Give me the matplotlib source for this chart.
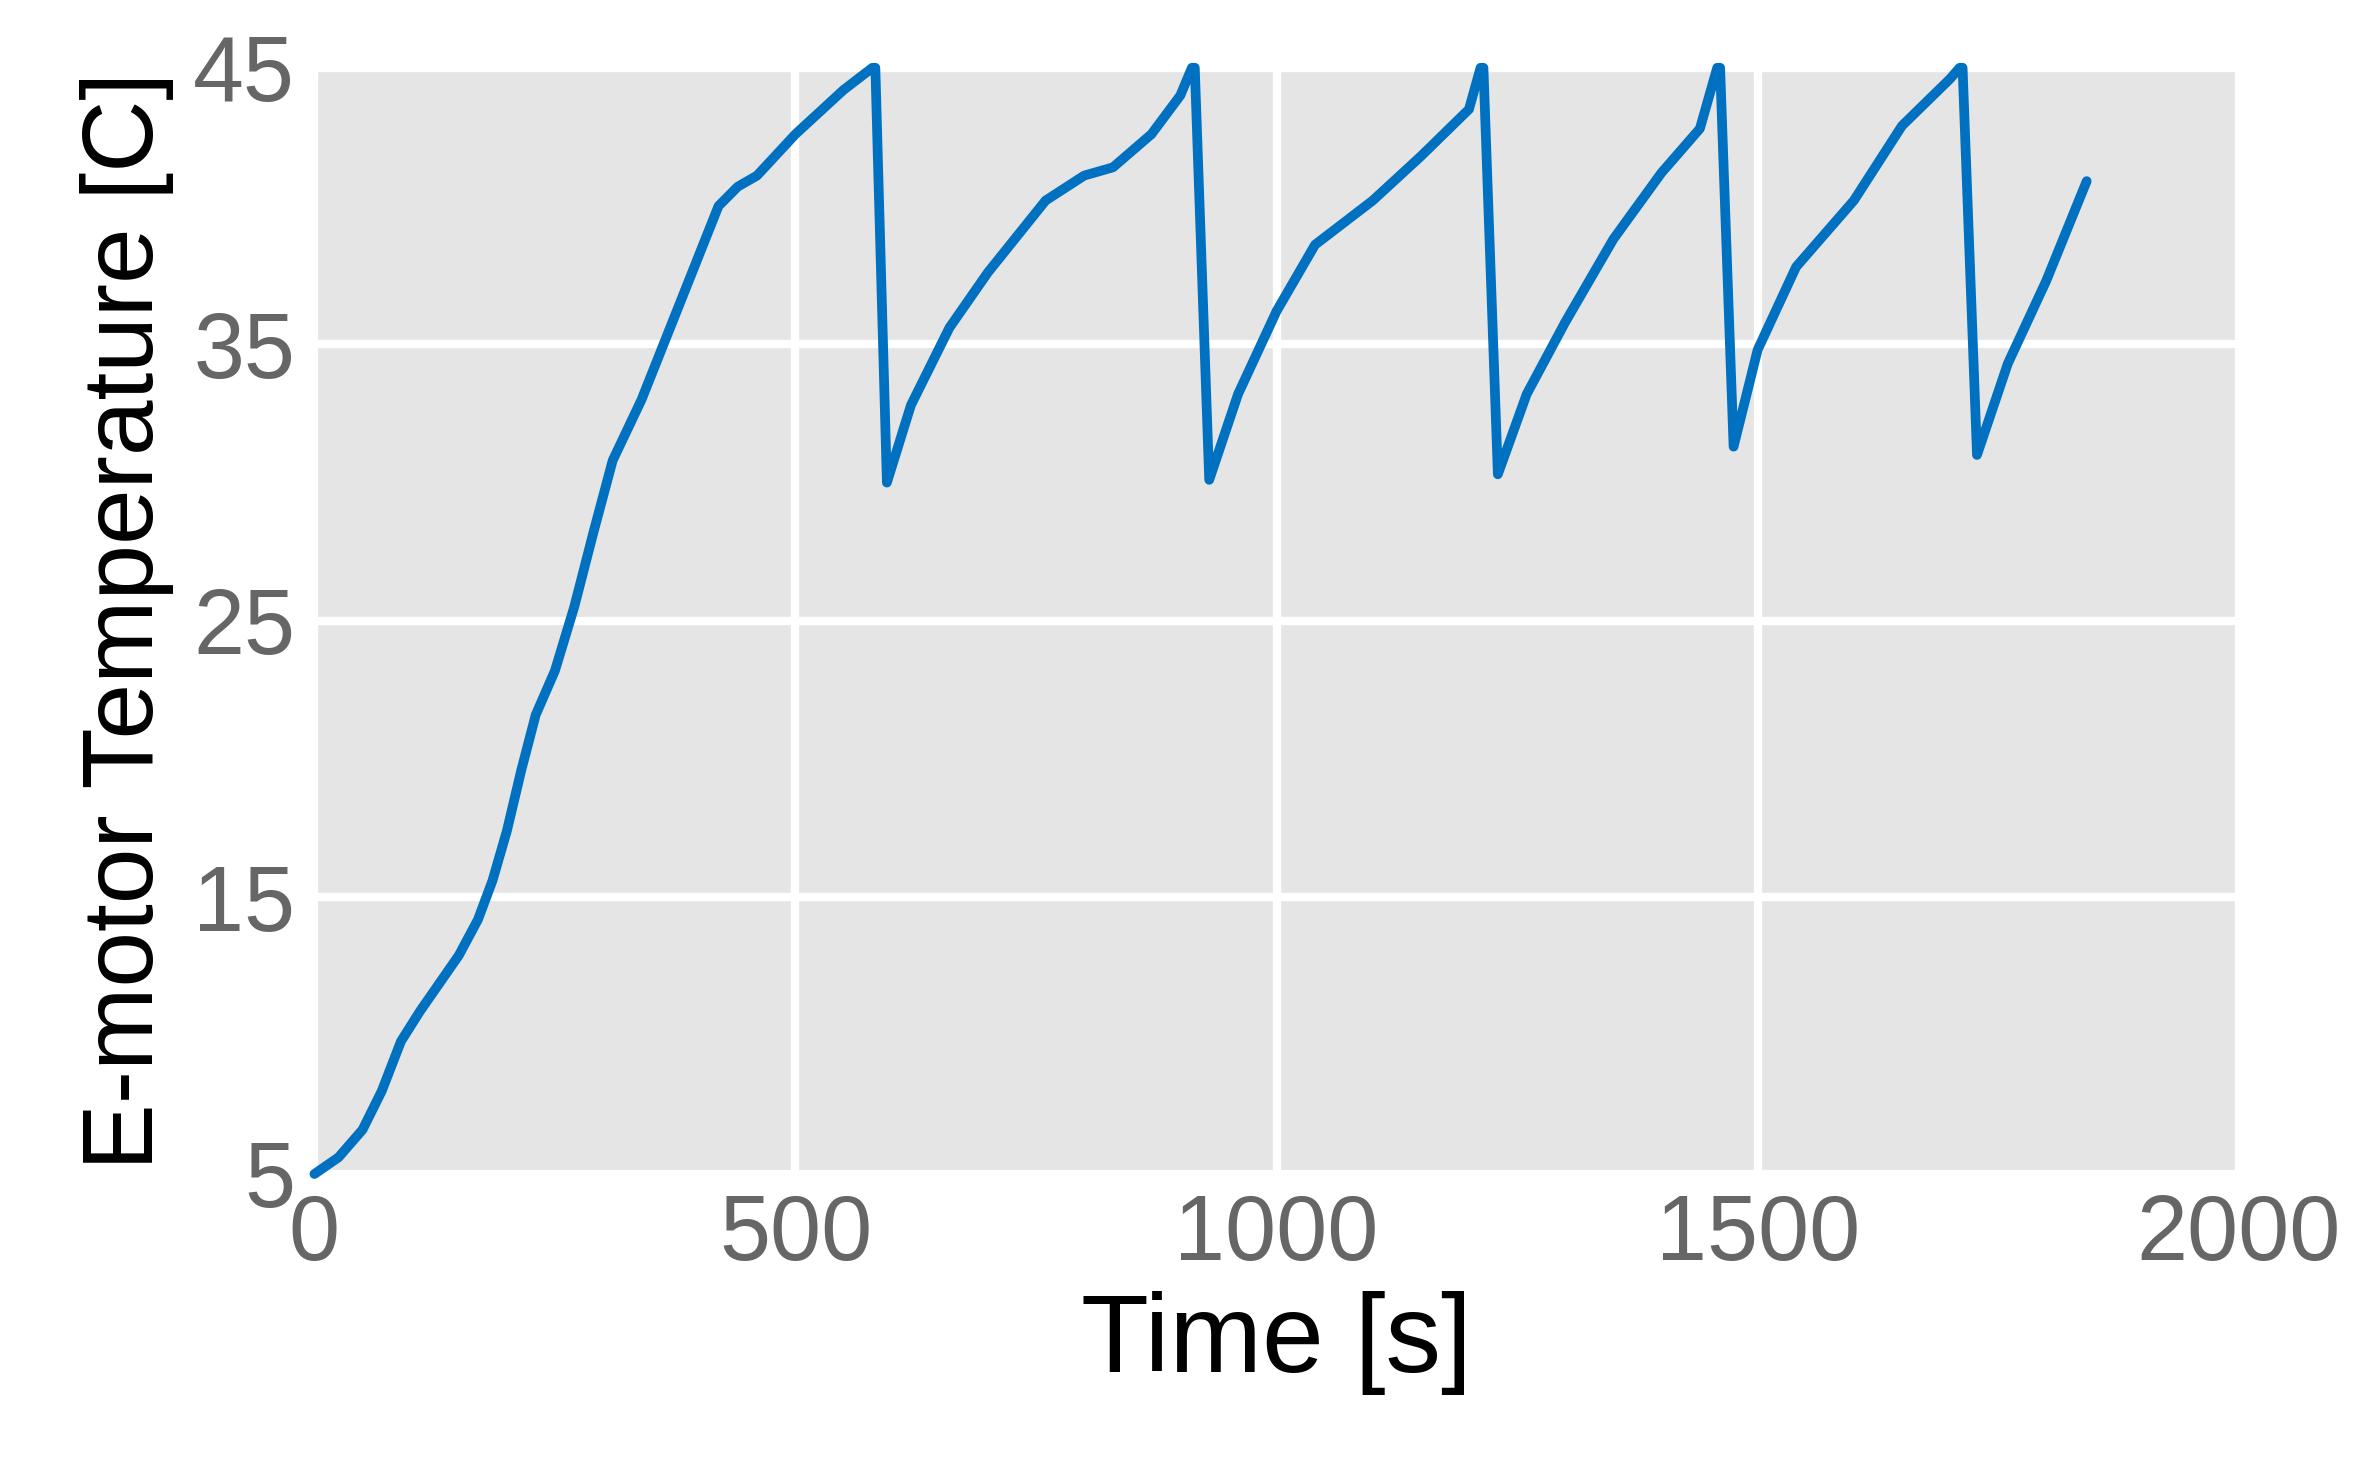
import matplotlib
matplotlib.use("Agg")
from matplotlib import pyplot as plt

plt.rcParams["font.family"] = ["Liberation Sans", "DejaVu Sans"]

# time [s] and e-motor temperature [C]
time_s = [0, 25, 50, 70, 90, 110, 130, 150, 170, 185, 200, 215, 230, 250, 270, 290, 310, 340,
          380, 420, 440, 460, 500, 550, 580, 583, 595, 620, 660, 700, 760, 800, 830, 870,
          900, 912, 915, 930, 960, 1000, 1040, 1100, 1150, 1200, 1212, 1215, 1230, 1260,
          1300, 1350, 1400, 1440, 1458, 1461, 1475, 1500, 1540, 1600, 1650, 1700, 1710,
          1713, 1728, 1760, 1800, 1842]
temp_c = [5, 5.6, 6.6, 8.0, 9.8, 10.9, 11.9, 12.9, 14.2, 15.6, 17.4, 19.6, 21.6, 23.2, 25.5,
          28.2, 30.8, 33.0, 36.5, 40.0, 40.7, 41.1, 42.6, 44.2, 45, 45, 30.0, 32.8, 35.6,
          37.6, 40.2, 41.1, 41.4, 42.6, 44.0, 45, 45, 30.1, 33.2, 36.2, 38.6, 40.2, 41.8,
          43.5, 45, 45, 30.3, 33.2, 35.8, 38.8, 41.2, 42.8, 45, 45, 31.3, 34.8, 37.8, 40.2,
          42.9, 44.6, 45, 45, 31.0, 34.3, 37.3, 40.9]

x_ticks = [0, 500, 1000, 1500, 2000]
y_ticks = [5, 15, 25, 35, 45]

fig = plt.figure(figsize=(23.64, 14.73), dpi=100)
ax = fig.add_axes([0.133, 0.203, 0.814, 0.751])
ax.set_facecolor("#E5E5E5")
ax.plot(time_s, temp_c, color="#0070C0", lw=7, solid_joinstyle="round",
        solid_capstyle="round", clip_on=False, zorder=3)

ax.set_xlim(0, 2000)
ax.set_ylim(5, 45)
ax.set_xticks(x_ticks)
ax.set_yticks(y_ticks)
ax.grid(True, color="white", lw=6)
ax.set_axisbelow(True)
for s in ax.spines.values():
    s.set_visible(False)
ax.tick_params(length=0, labelsize=66, labelcolor="#666666", pad=14)
ax.set_xlabel("Time [s]", fontsize=80, labelpad=8)
ax.set_ylabel("E-motor Temperature [C]", fontsize=72, labelpad=14)

fig.savefig("out.png", dpi=100)
